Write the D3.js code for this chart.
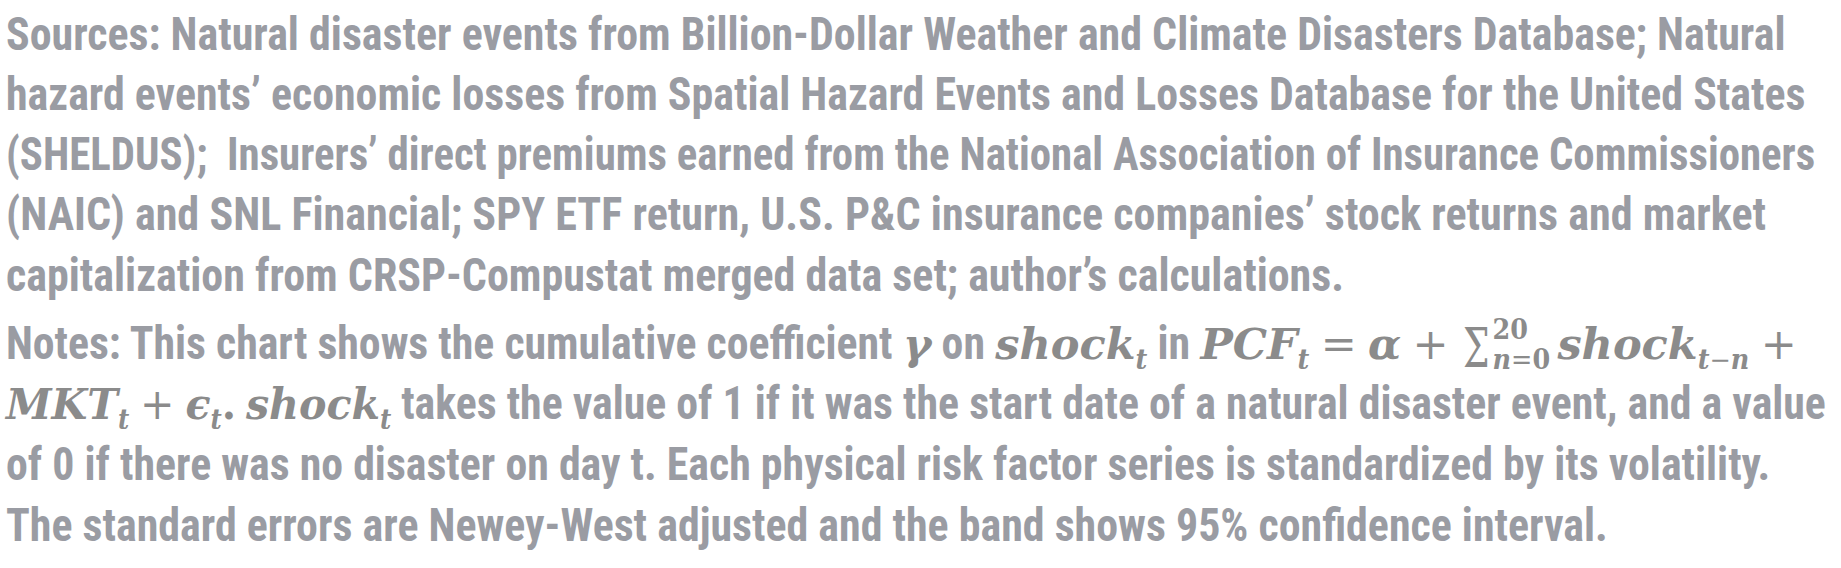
<!DOCTYPE html>
<html><head><meta charset="utf-8">
<script src="https://cdn.jsdelivr.net/npm/d3@7"></script>
<style>html,body{margin:0;padding:0;background:#fff;overflow:hidden} svg{display:block}</style>
</head><body>
<script>
// ---------- content ----------
const sourcesLines = [
  "Sources: Natural disaster events from Billion-Dollar Weather and Climate Disasters Database; Natural",
  "hazard events\u2019 economic losses from Spatial Hazard Events and Losses Database for the United States",
  "(SHELDUS);  Insurers\u2019 direct premiums earned from the National Association of Insurance Commissioners",
  "(NAIC) and SNL Financial; SPY ETF return, U.S. P&C insurance companies\u2019 stock returns and market",
  "capitalization from CRSP-Compustat merged data set; author\u2019s calculations."
];
const notesLine1 = [
  ["txt", "Notes: This chart shows the cumulative coefficient"], ["sp"],
  ["mi", "\u03B3"], ["sp"], ["txt", "on"], ["sp"],
  ["mi", "shock"], ["sub", "t"], ["sp"], ["txt", "in"], ["sp"],
  ["mi", "PCF"], ["sub", "t"], ["mo", "="], ["mi", "\u03B1"], ["mo", "+"],
  ["op", "\u03A3"], ["supsub", "20", "n=0"], ["mi", "shock"], ["sub", "t\u2212n"], ["mo", "+"]
];
const notesLine2 = [
  ["mi", "MKT"], ["sub", "t"], ["mo", "+"], ["mi", "\u03F5"], ["sub", "t"], ["mi", "."], ["sp"],
  ["mi", "shock"], ["sub", "t"], ["sp"],
  ["txt", "takes the value of 1 if it was the start date of a natural disaster event, and a value"]
];
const notesLine3 = "of 0 if there was no disaster on day t. Each physical risk factor series is standardized by its volatility.";
const notesLine4 = "The standard errors are Newey-West adjusted and the band shows 95% confidence interval.";

// ---------- layout & style ----------
const W = 1841, H = 568;
const X0 = 6;
const sourceBaselines = [50, 110, 170, 230, 291];
const sourceEnds = [1786, 1806, 1816, 1767, 1344];
const noteBaselines = [359, 419, 480, 541];
const noteEnds = [1808, 1826, 1771, 1608];

const TEXT_FONT = "'Roboto Condensed', 'Roboto', 'Liberation Sans Narrow', sans-serif";
const MATH_FONT = "'DejaVu Serif', 'Liberation Serif', serif";
const TEXT_COLOR = "#9a9ca3";
const MATH_COLOR = "#8b8b8b";
const styles = {
  txt:    {ff: TEXT_FONT, fs: 46, dy: 0, math: false},
  mi:     {ff: MATH_FONT, fs: 42, dy: 0, math: true},
  mo:     {ff: MATH_FONT, fs: 42, dy: 0, math: true, pad: 11},
  op:     {ff: MATH_FONT, fs: 54, dy: 8, math: true, pad: 3, sx: 0.68},
  sub:    {ff: MATH_FONT, fs: 27, dy: 10, math: true, sx: 0.92},
  sup:    {ff: MATH_FONT, fs: 27, dy: -20, math: true, sx: 0.92},
  supsub: {padAfter: 7}
};
const SPACE = 10;

const svg = d3.select("body").append("svg").attr("width", W).attr("height", H);

function mathRuns(s) {
  const out = [];
  for (const ch of s) {
    let c = /[0-9.]/.test(ch) ? "num" : /[=+\u2212\u03A3]/.test(ch) ? "op" : "var";
    if (out.length && out[out.length - 1][1] === c) out[out.length - 1][0] += ch;
    else out.push([ch, c]);
  }
  return out;
}

function makeText(g, kind, str) {
  const st = styles[kind];
  const t = g.append("text")
    .attr("x", 0).attr("y", st.dy)
    .attr("font-family", st.ff)
    .attr("font-size", st.fs)
    .style("white-space", "pre");
  if (!st.math) {
    t.attr("font-weight", 700).attr("fill", TEXT_COLOR).style("font-stretch", "condensed").text(str);
  } else {
    t.attr("fill", MATH_COLOR);
    mathRuns(str).forEach(([s, c]) => {
      t.append("tspan").text(s)
        .attr("font-weight", c === "op" ? 400 : 700)
        .attr("font-style", c === "var" ? "italic" : "normal");
    });
  }
  const sx = st.sx || 1;
  return {sel: t, w: t.node().getComputedTextLength() * sx, sx};
}

// plain lines
const factors = [];
function plainLine(str, base, end) {
  const g = svg.append("g");
  const t = makeText(g, "txt", str);
  const f = (end - X0) / t.w;
  factors.push(f);
  t.sel.attr("transform", `translate(${X0},${base}) scale(${f},1)`);
}
sourcesLines.forEach((s, i) => plainLine(s, sourceBaselines[i], sourceEnds[i]));
plainLine(notesLine3, noteBaselines[2], noteEnds[2]);
plainLine(notesLine4, noteBaselines[3], noteEnds[3]);
const fText = d3.mean(factors);

function mixedLine(segs, base, end) {
  const g = svg.append("g");
  const items = [];
  segs.forEach(seg => {
    const k = seg[0];
    if (k === "sp") { items.push({gap: SPACE, math: true}); return; }
    if (k === "supsub") {
      const a = makeText(g, "sup", seg[1]);
      const b = makeText(g, "sub", seg[2]);
      items.push({nodes: [a, b], w: Math.max(a.w, b.w), math: true});
      items.push({gap: styles.supsub.padAfter, math: true});
      return;
    }
    const st = styles[k];
    const t = makeText(g, k, seg[1]);
    if (st.pad) items.push({gap: st.pad, math: true});
    items.push({nodes: [t], w: t.w, math: st.math});
    if (st.pad) items.push({gap: st.pad, math: true});
  });
  const textW = d3.sum(items.filter(d => !d.math), d => d.w) * fText;
  const mathW = d3.sum(items.filter(d => d.math), d => d.nodes ? d.w : d.gap);
  const m = (end - X0 - textW) / mathW;
  let x = X0;
  items.forEach(it => {
    const s = it.math ? m : fText;
    if (it.nodes) {
      it.nodes.forEach(n => n.sel.attr("transform", `translate(${x},${base}) scale(${s * n.sx},1)`));
      x += it.w * s;
    } else x += it.gap * s;
  });
}
mixedLine(notesLine1, noteBaselines[0], noteEnds[0]);
mixedLine(notesLine2, noteBaselines[1], noteEnds[1]);
</script>
</body></html>
